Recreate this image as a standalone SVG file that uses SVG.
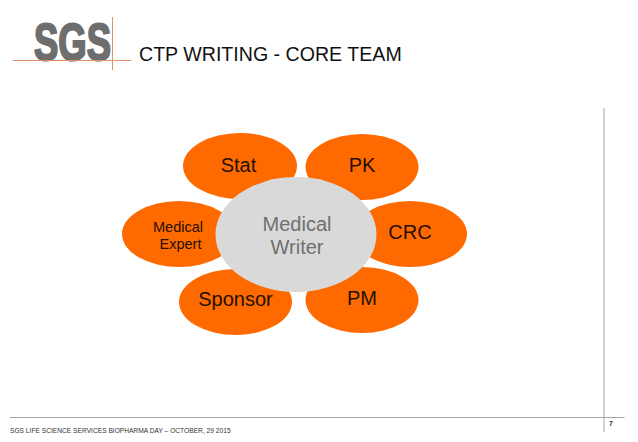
<svg xmlns="http://www.w3.org/2000/svg" width="638" height="442" viewBox="0 0 638 442">
<style>
text{font-family:"Liberation Sans",Arial,sans-serif;text-anchor:middle}
.o{fill:#ff6a00}
.t{fill:#241000;font-size:20px}
.s{fill:#241000;font-size:14.500px}
.w{fill:#6f6f6f;font-size:20px}
.rule{stroke:#a6a6a6;stroke-width:1;fill:none}
.brand{stroke:#e0906a;stroke-width:1;fill:none}
</style>
<rect width="638" height="442" fill="#fff"/>
<g id="logo">
<text x="72.500" y="59.500" font-size="51" font-weight="700" fill="#6e6e6e" stroke="#6e6e6e" stroke-width="2.200" textLength="77" lengthAdjust="spacingAndGlyphs">SGS</text>
<path class="brand" d="M13 60.500H131M112.500 17V70"/>
</g>
<text id="title" x="139" y="61" font-size="19.600" fill="#111" style="text-anchor:start">CTP WRITING - CORE TEAM</text>
<g id="connectors"></g>
<g id="stat"><ellipse class="o" cx="240" cy="166" rx="57" ry="33"/><text class="t" x="238.500" y="171.500">Stat</text></g>
<g id="pk"><ellipse class="o" cx="362" cy="167" rx="56.500" ry="33"/><text class="t" x="362" y="172">PK</text></g>
<g id="crc"><ellipse class="o" cx="410" cy="234" rx="57" ry="33"/><text class="t" x="410" y="239">CRC</text></g>
<g id="medical-expert"><ellipse class="o" cx="179" cy="234" rx="57" ry="33"/><text class="s" x="178" y="232">Medical</text><text class="s" x="180.500" y="249">Expert</text></g>
<g id="sponsor"><ellipse class="o" cx="235.500" cy="302" rx="56.500" ry="33"/><text class="t" x="235.500" y="306">Sponsor</text></g>
<g id="pm"><ellipse class="o" cx="362" cy="300" rx="56.500" ry="33"/><text class="t" x="362" y="305">PM</text></g>
<g id="medical-writer"><ellipse cx="296" cy="234.500" rx="80.500" ry="57.500" fill="#d9d9d9"/><text class="w" x="297" y="231">Medical</text><text class="w" x="297" y="254">Writer</text></g>
<g id="frame"><path class="rule" d="M10 417.500H624.500M604 108V432"/></g>
<text id="footer" x="10" y="433" font-size="6.650" fill="#333" style="text-anchor:start">SGS LIFE SCIENCE SERVICES BIOPHARMA DAY – OCTOBER, 29 2015</text>
<text id="page" x="611" y="426" font-size="7" font-weight="700" fill="#333">7</text>
</svg>
